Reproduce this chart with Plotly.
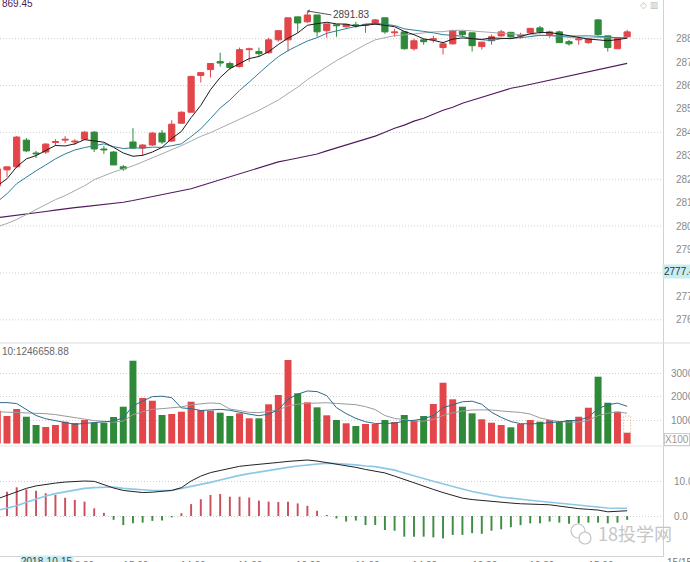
import plotly.graph_objects as go

# ---------------- data ----------------
opens = [2817.2, 2824.0, 2825.3, 2836.7, 2831.2, 2831.6, 2835.7, 2836.7, 2835.9, 2837.1,
         2840.1, 2832.9, 2831.6, 2825.3, 2835.9, 2833.3, 2834.6, 2839.7, 2836.3, 2843.9,
         2848.6, 2864.3, 2866.8, 2870.2, 2869.4, 2868.1, 2875.3, 2874.5, 2874.0, 2879.5,
         2879.5, 2889.3, 2887.2, 2890.1, 2883.4, 2885.9, 2885.1, 2885.9, 2885.7, 2886.3,
         2888.9, 2882.5, 2882.9, 2875.7, 2879.5, 2879.5, 2876.2, 2877.8, 2883.1, 2882.5,
         2876.6, 2879.1, 2881.2, 2882.7, 2881.2, 2882.5, 2884.6, 2881.7, 2882.9, 2878.7,
         2879.5, 2878.3, 2888.0, 2881.2, 2875.7, 2880.8]
highs = [2825.3, 2825.3, 2838.4, 2837.6, 2832.1, 2835.4, 2837.1, 2838.4, 2837.1, 2840.5,
         2840.5, 2834.2, 2832.1, 2826.1, 2841.8, 2835.0, 2840.1, 2841.0, 2845.2, 2849.0,
         2863.9, 2865.5, 2869.4, 2874.0, 2870.2, 2876.2, 2876.2, 2876.2, 2880.4, 2883.4,
         2888.9, 2889.3, 2891.83, 2890.1, 2886.3, 2885.9, 2886.3, 2887.2, 2886.3, 2888.4,
         2888.9, 2884.2, 2882.9, 2880.0, 2880.0, 2881.2, 2878.7, 2883.8, 2883.4, 2882.5,
         2878.7, 2881.7, 2883.8, 2882.9, 2882.5, 2884.6, 2885.5, 2883.4, 2883.4, 2879.5,
         2880.8, 2880.4, 2888.4, 2881.2, 2880.8, 2883.8]
lows = [2815.9, 2821.0, 2824.8, 2831.6, 2829.1, 2830.8, 2834.2, 2835.4, 2834.6, 2836.7,
        2831.6, 2830.8, 2826.1, 2823.6, 2832.9, 2829.9, 2834.2, 2835.0, 2835.9, 2843.9,
        2848.6, 2861.3, 2863.4, 2868.1, 2866.8, 2867.7, 2870.2, 2872.3, 2873.6, 2878.7,
        2874.5, 2882.5, 2886.7, 2880.8, 2880.4, 2880.8, 2884.6, 2884.6, 2882.5, 2885.9,
        2882.1, 2880.8, 2875.3, 2874.9, 2877.4, 2878.3, 2873.2, 2877.4, 2880.8, 2874.5,
        2875.3, 2877.4, 2880.8, 2880.4, 2880.0, 2882.1, 2882.1, 2880.4, 2878.3, 2877.0,
        2877.4, 2877.8, 2881.2, 2874.5, 2875.7, 2880.4]
closes = [2824.4, 2825.3, 2838.0, 2832.1, 2830.8, 2835.0, 2836.1, 2837.1, 2836.3, 2840.1,
          2832.9, 2832.5, 2826.1, 2824.4, 2833.3, 2834.6, 2839.7, 2835.9, 2843.5, 2848.6,
          2863.9, 2865.5, 2869.4, 2869.6, 2867.7, 2875.3, 2875.7, 2873.6, 2879.5, 2883.4,
          2888.9, 2886.7, 2890.1, 2882.9, 2886.3, 2885.5, 2886.1, 2885.5, 2886.1, 2888.0,
          2882.9, 2882.9, 2875.7, 2879.1, 2878.7, 2880.0, 2877.8, 2883.4, 2881.7, 2877.0,
          2878.5, 2880.8, 2882.9, 2880.8, 2881.7, 2884.4, 2882.9, 2882.9, 2878.3, 2877.8,
          2880.0, 2880.0, 2881.7, 2876.2, 2880.4, 2882.9]

ma5 = [2817.2, 2820.2, 2825.3, 2828.7, 2830.1, 2832.2, 2834.4, 2834.2, 2835.1, 2836.9,
       2836.5, 2835.8, 2833.6, 2831.2, 2829.8, 2830.2, 2831.6, 2833.6, 2837.4, 2840.4,
       2846.3, 2851.5, 2858.2, 2863.4, 2867.2, 2869.5, 2871.5, 2872.4, 2874.4, 2877.5,
       2880.2, 2882.4, 2885.7, 2886.4, 2887.0, 2886.3, 2886.2, 2885.3, 2885.9, 2886.2,
       2885.7, 2885.1, 2883.1, 2881.7, 2879.9, 2879.3, 2878.3, 2879.8, 2880.3, 2880.0,
       2879.7, 2880.3, 2880.2, 2880.0, 2880.9, 2882.1, 2882.6, 2882.6, 2882.0, 2881.3,
       2880.4, 2879.8, 2879.5, 2879.1, 2879.6, 2880.2]
ma10 = [2810.4, 2813.8, 2818.1, 2821.0, 2823.6, 2826.1, 2828.7, 2830.8, 2832.5, 2833.5,
        2834.3, 2835.1, 2833.9, 2833.1, 2833.4, 2833.3, 2833.7, 2833.6, 2834.3, 2835.1,
        2838.2, 2841.5, 2845.9, 2850.4, 2853.8, 2857.9, 2861.5, 2865.3, 2868.9, 2872.3,
        2874.9, 2877.0, 2879.0, 2880.4, 2882.3, 2883.3, 2884.3, 2885.5, 2886.2, 2886.6,
        2886.0, 2885.6, 2884.2, 2883.8, 2883.1, 2882.5, 2881.7, 2881.4, 2881.0, 2879.9,
        2879.5, 2879.2, 2880.0, 2880.1, 2880.4, 2880.9, 2881.4, 2881.4, 2881.0, 2881.1,
        2881.2, 2881.2, 2881.0, 2880.6, 2880.4, 2880.3]
ma20 = [2799.8, 2801.1, 2802.8, 2804.9, 2807.0, 2809.2, 2811.3, 2813.0, 2815.1, 2817.2,
        2819.8, 2821.5, 2823.1, 2824.4, 2825.7, 2827.4, 2829.1, 2830.8, 2832.5, 2834.3,
        2836.3, 2838.3, 2839.9, 2841.8, 2843.6, 2845.6, 2847.6, 2849.4, 2851.6, 2853.8,
        2856.6, 2859.3, 2862.5, 2865.4, 2868.0, 2870.6, 2872.9, 2875.4, 2877.5, 2879.5,
        2880.4, 2881.3, 2881.6, 2882.1, 2882.6, 2882.9, 2883.0, 2883.5, 2883.6, 2883.3,
        2882.8, 2882.5, 2882.1, 2882.0, 2881.7, 2881.7, 2881.5, 2881.4, 2881.0, 2880.5,
        2880.4, 2880.2, 2880.5, 2880.4, 2880.4, 2880.6]
ma60 = [2803.6, 2804.1, 2804.5, 2804.9, 2805.6, 2806.2, 2806.8, 2807.5, 2807.9, 2808.3,
        2808.7, 2809.4, 2809.8, 2810.2, 2810.9, 2811.7, 2812.5, 2813.4, 2814.2, 2814.9,
        2815.9, 2817.2, 2818.5, 2819.8, 2821.0, 2822.3, 2823.6, 2824.8, 2826.1, 2827.4,
        2828.2, 2829.1, 2829.9, 2830.8, 2832.1, 2833.3, 2834.6, 2835.9, 2837.1, 2838.4,
        2840.1, 2841.8, 2843.1, 2844.8, 2846.0, 2847.7, 2849.4, 2850.7, 2852.4, 2853.7,
        2854.9, 2856.2, 2857.5, 2858.8, 2859.6, 2860.5, 2861.3, 2862.2, 2863.4, 2864.3,
        2865.1, 2866.0, 2866.8, 2867.7, 2868.5, 2869.45]

volumes = [1396, 1170, 1468, 1140, 787, 702, 787, 928, 872, 1000,
           885, 885, 1128, 1566, 3523, 1936, 1821, 1213, 1255, 1353,
           1779, 1426, 1396, 1311, 1170, 1285, 1072, 1072, 1668, 2064,
           3553, 2136, 1753, 1540, 1200, 1000, 860, 745, 830, 830,
           1000, 915, 1213, 970, 1170, 1681, 2587, 1881, 1566, 1285,
           1030, 885, 787, 689, 830, 1000, 928, 1000, 915, 1000,
           1140, 1523, 2843, 1736, 1353, 460]
vol_est_last = 1170
vol_ma5 = [1740, 1740, 1700, 1430, 1192, 1053, 977, 869, 815, 858,
           894, 914, 954, 1093, 1597, 1808, 1995, 2012, 1950, 1516,
           1484, 1405, 1442, 1453, 1416, 1318, 1247, 1182, 1253, 1432,
           1886, 2099, 2235, 2209, 2036, 1526, 1271, 1069, 927, 853,
           853, 864, 958, 986, 1054, 1190, 1524, 1658, 1777, 1800,
           1670, 1329, 1111, 935, 844, 838, 847, 889, 935, 969,
           997, 1116, 1484, 1648, 1719, 1583]
vol_ma10 = [1350, 1340, 1330, 1320, 1300, 1270, 1230, 1170, 1100, 1025,
            974, 945, 911, 954, 1228, 1351, 1454, 1483, 1521, 1557,
            1646, 1700, 1727, 1701, 1466, 1401, 1326, 1312, 1353, 1424,
            1602, 1673, 1708, 1731, 1734, 1706, 1685, 1652, 1568, 1445,
            1189, 1067, 1013, 956, 953, 1021, 1194, 1308, 1381, 1427,
            1430, 1427, 1384, 1356, 1322, 1254, 1088, 1000, 935, 906,
            917, 981, 1187, 1292, 1344, 1290]

macd_hist = [5.5, 6.9, 8.2, 7.6, 7.2, 6.5, 6.0, 5.2, 4.6, 4.1,
             2.2, 0.9, -1.1, -2.6, -2.1, -1.9, -1.4, -1.3, -0.4, 0.8,
             3.4, 4.8, 6.0, 6.3, 5.5, 5.5, 5.3, 4.4, 4.1, 4.0,
             4.1, 3.6, 2.9, 1.5, 0.3, -0.7, -1.6, -1.3, -2.6, -2.6,
             -4.0, -4.2, -5.9, -5.9, -5.9, -6.1, -6.4, -5.4, -5.4, -4.9,
             -5.1, -4.2, -3.8, -3.2, -2.6, -2.1, -2.1, -1.6, -1.9, -2.2,
             -2.1, -1.9, -1.9, -2.1, -1.9, -1.1]
dif = [4.9, 5.9, 7.1, 7.9, 8.6, 9.1, 9.4, 9.7, 9.9, 10.0,
       9.9, 8.9, 8.0, 7.3, 6.9, 6.7, 6.8, 7.0, 7.3, 8.1,
       10.0, 11.4, 12.4, 13.0, 13.6, 14.2, 14.5, 14.7, 15.0, 15.3,
       15.6, 15.8, 16.0, 15.7, 15.3, 14.9, 14.5, 13.9, 13.3, 12.8,
       12.3, 11.4, 10.4, 9.6, 8.6, 7.6, 6.7, 5.9, 5.1, 4.7,
       4.4, 4.1, 3.9, 3.7, 3.5, 3.5, 3.3, 3.2, 2.8, 2.3,
       2.1, 1.9, 1.7, 1.2, 1.4, 1.5]
dea = [1.6, 2.3, 2.9, 3.9, 4.9, 5.7, 6.4, 6.9, 7.4, 7.9,
       8.1, 8.3, 8.3, 7.9, 7.6, 7.5, 7.3, 7.3, 7.3, 7.9,
       8.4, 9.0, 9.6, 10.3, 11.0, 11.6, 12.1, 12.6, 13.0, 13.4,
       13.9, 14.3, 14.6, 14.9, 15.1, 15.0, 14.9, 14.6, 14.3, 14.1,
       13.6, 13.1, 12.3, 11.6, 10.7, 9.9, 9.1, 8.4, 7.7, 7.0,
       6.4, 6.0, 5.4, 5.1, 4.7, 4.5, 4.2, 3.9, 3.6, 3.3,
       3.0, 2.8, 2.6, 2.3, 2.2, 2.2]

# 2780 is hidden behind the cursor price box in the reference
price_ticks = [2760, 2770, 2790, 2800, 2810, 2820, 2830, 2840, 2850, 2860, 2870, 2880]
price_grid = [2760, 2780, 2800, 2820, 2840, 2860, 2880]
vol_ticks = [1000, 2000, 3000]
macd_ticks = [0, 10]
macd_ticktext = ["0.0", "10.0"]
time_tickpos = [1.3, 8.7, 14.3, 20.2, 26.1, 32.1, 38.2, 44.1, 50.3, 56.2, 62.3]
time_ticktext = ["10:00", "13:30", "15:00", "14:00", "11:00", "10:00",
                 "11:00", "14:30", "10:30", "10:30", "15:00"]
high_label = "2891.83"
ma60_label = "869.45"
vol_label = "10:1246658.88"
cursor_price = 2777.4
cursor_date = "2018-10-15"
next_date = "15/15"

# ---------------- styling / layout helpers ----------------
W, H = 690, 562
RED = "#e2464a"
GREEN = "#2e8a39"
HRED = "#c9505c"
HGREEN = "#3f8c44"
AXC = "#d2d2d2"
GRIDC = "#cfcfcf"
GDASH = "1px,2px"
FONT = "Liberation Sans, Arial, sans-serif"


def py(px):
    return 1 - px / H


def pxx(px):
    return px / W


X_RIGHT = pxx(663)
n = len(closes)
idx = list(range(n))
up = [closes[i] >= opens[i] for i in idx]

fig = go.Figure()

# wicks
for flag, col in ((True, RED), (False, GREEN)):
    wx, wy = [], []
    for i in idx:
        if up[i] == flag:
            wx += [i, i, None]
            wy += [lows[i], highs[i], None]
    fig.add_trace(go.Scatter(x=wx, y=wy, mode="lines", line=dict(color=col, width=1),
                             xaxis="x", yaxis="y", hoverinfo="skip"))

# bodies
for flag, col in ((True, RED), (False, GREEN)):
    bx = [i for i in idx if up[i] == flag]
    base = [min(opens[i], closes[i]) for i in bx]
    hgt = [abs(closes[i] - opens[i]) for i in bx]
    fig.add_trace(go.Bar(x=bx, y=hgt, base=base, width=0.64,
                         marker=dict(color=col, line=dict(color=col, width=1)),
                         xaxis="x", yaxis="y", hoverinfo="skip"))

# price moving averages
for arr, col, w in ((ma60, "#521a5e", 1.1), (ma20, "#a9a9a9", 1), (ma10, "#2e7f98", 1), (ma5, "#1b1b1b", 1)):
    fig.add_trace(go.Scatter(x=idx, y=arr, mode="lines", line=dict(color=col, width=w),
                             xaxis="x", yaxis="y", hoverinfo="skip"))

# volume
fig.add_trace(go.Bar(x=idx, y=volumes, width=0.72,
                     marker=dict(color=[RED if u else GREEN for u in up], line=dict(width=0)),
                     xaxis="x2", yaxis="y2", hoverinfo="skip"))
fig.add_trace(go.Scatter(x=idx, y=vol_ma10, mode="lines", line=dict(color="#9a9a9a", width=1),
                         xaxis="x2", yaxis="y2", hoverinfo="skip"))
fig.add_trace(go.Scatter(x=idx, y=vol_ma5, mode="lines", line=dict(color="#2d6a8c", width=1),
                         xaxis="x2", yaxis="y2", hoverinfo="skip"))

# MACD
fig.add_trace(go.Bar(x=idx, y=macd_hist, width=0.2,
                     marker=dict(color=[HRED if v >= 0 else HGREEN for v in macd_hist], line=dict(width=0)),
                     xaxis="x3", yaxis="y3", hoverinfo="skip"))
fig.add_trace(go.Scatter(x=idx, y=dea, mode="lines", line=dict(color="#8cc8e6", width=1.6),
                         xaxis="x3", yaxis="y3", hoverinfo="skip"))
fig.add_trace(go.Scatter(x=idx, y=dif, mode="lines", line=dict(color="#222222", width=1),
                         xaxis="x3", yaxis="y3", hoverinfo="skip"))

XR = [0.278, 68.70]
xcommon = dict(range=XR, domain=[0, X_RIGHT], showgrid=False, zeroline=False,
               fixedrange=True, automargin=False)
tickfont = dict(family=FONT, size=10, color="#8a8a8a")
ycommon = dict(side="right", zeroline=False, showline=True, linecolor=AXC,
               linewidth=1, ticks="", tickfont=tickfont, automargin=False, fixedrange=True)

fig.update_layout(
    width=W, height=H, margin=dict(l=0, r=0, t=0, b=0),
    paper_bgcolor="white", plot_bgcolor="white",
    showlegend=False, barmode="overlay", hovermode=False,
    xaxis=dict(**xcommon, anchor="y", showticklabels=False, showline=False),
    xaxis2=dict(**xcommon, anchor="y2", showticklabels=False, showline=False),
    xaxis3=dict(**xcommon, anchor="y3", showline=True, linecolor=AXC, ticks="",
                tickmode="array", tickvals=time_tickpos, ticktext=time_ticktext,
                tickfont=dict(family=FONT, size=10, color="#777"), ticklabelstandoff=0),
    yaxis=dict(**ycommon, showgrid=False, domain=[py(343), 1], range=[2750.1, 2896.5],
               tickmode="array", tickvals=price_ticks, ticklabelstandoff=10),
    yaxis2=dict(**ycommon, showgrid=True, gridcolor=GRIDC, griddash=GDASH, gridwidth=1,
                domain=[py(446), py(343)], range=[-106, 4277],
                tickmode="array", tickvals=vol_ticks, ticklabelstandoff=5),
    yaxis3=dict(**ycommon, showgrid=True, gridcolor=GRIDC, griddash=GDASH, gridwidth=1,
                domain=[py(556), py(446)], range=[-11.43, 20],
                tickmode="array", tickvals=macd_ticks, ticktext=macd_ticktext, ticklabelstandoff=8),
)

shapes = []
for v in price_grid:
    shapes.append(dict(type="line", xref="paper", yref="y", x0=0, x1=X_RIGHT, y0=v, y1=v,
                       line=dict(color=GRIDC, width=1, dash=GDASH), layer="below"))
# panel separators
shapes.append(dict(type="line", xref="paper", yref="paper", x0=0, x1=1, y0=py(343), y1=py(343),
                   line=dict(color="#dcdcdc", width=1)))
shapes.append(dict(type="line", xref="paper", yref="paper", x0=0, x1=1, y0=py(446), y1=py(446),
                   line=dict(color="#e4e4e4", width=1)))
# dotted estimate box for last volume bar
last = n - 1
shapes.append(dict(type="rect", xref="x2", yref="y2", x0=last - 0.36, x1=last + 0.36,
                   y0=0, y1=vol_est_last, line=dict(color="#e0a070", width=1, dash=GDASH),
                   fillcolor="rgba(0,0,0,0)"))
# watermark icon
shapes.append(dict(type="circle", xref="paper", yref="paper", x0=pxx(571), x1=pxx(585),
                   y0=py(538), y1=py(524), line=dict(color="#c4c4c4", width=1.2)))
shapes.append(dict(type="circle", xref="paper", yref="paper", x0=pxx(579), x1=pxx(591),
                   y0=py(544), y1=py(532), line=dict(color="#c4c4c4", width=1.2),
                   fillcolor="white"))
fig.update_layout(shapes=shapes)

ann = []
ann.append(dict(xref="paper", yref="paper", x=0, y=1, xanchor="left", yanchor="top", yshift=4,
                text=ma60_label, showarrow=False, font=dict(family=FONT, size=10, color="#4a1d5a")))
ann.append(dict(xref="paper", yref="paper", x=0, y=py(343), xanchor="left", yanchor="top", yshift=-1,
                text=vol_label, showarrow=False, font=dict(family=FONT, size=10, color="#666")))
hi_i = max(idx, key=lambda i: highs[i])
ann.append(dict(xref="x", yref="y", x=hi_i, y=highs[hi_i], text=high_label, showarrow=True,
                ax=24, ay=4, arrowhead=1, arrowsize=0.7, arrowwidth=1, arrowcolor="#555",
                xanchor="left", font=dict(family=FONT, size=10, color="#444")))
ann.append(dict(xref="paper", yref="y", x=pxx(662), y=cursor_price, xanchor="left", yanchor="bottom",
                text=str(cursor_price), showarrow=False, bgcolor="#c9eef2", borderpad=1,
                font=dict(family=FONT, size=10, color="#333")))
ann.append(dict(xref="paper", yref="paper", x=pxx(664), y=py(433), xanchor="left", yanchor="top",
                text="X100", showarrow=False, bordercolor="#cccccc", borderwidth=1, borderpad=0,
                font=dict(family=FONT, size=10, color="#999")))
ann.append(dict(xref="paper", yref="paper", x=pxx(20), y=py(555), xanchor="left", yanchor="top",
                text=cursor_date, showarrow=False, bgcolor="#c9eef2", borderpad=0,
                font=dict(family=FONT, size=10, color="#444")))
ann.append(dict(xref="paper", yref="paper", x=pxx(665), y=py(555), xanchor="left", yanchor="top",
                text=next_date, showarrow=False, font=dict(family=FONT, size=10, color="#777")))
ann.append(dict(xref="paper", yref="paper", x=pxx(638), y=1, xanchor="left", yanchor="top", yshift=2,
                text="◇ ▥", showarrow=False, font=dict(family="DejaVu Sans", size=9, color="#bbb")))
ann.append(dict(xref="paper", yref="paper", x=pxx(596), y=py(533), xanchor="left", yanchor="middle",
                text="18投学网", showarrow=False,
                font=dict(family="Noto Sans CJK SC", size=18, color="#c6c6c6")))
fig.update_layout(annotations=ann)

fig.write_html("out.html", config={"displayModeBar": False, "staticPlot": True})
